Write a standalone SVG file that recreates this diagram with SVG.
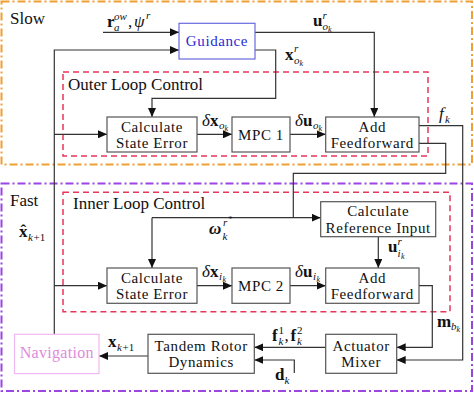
<svg xmlns="http://www.w3.org/2000/svg" width="474" height="415" viewBox="0 0 474 415" font-family="'Liberation Serif', 'Times New Roman', 'DejaVu Serif', serif">
<style>
text, tspan { font-family: 'Liberation Serif', 'Times New Roman', 'DejaVu Serif', serif; }
text { fill: #111; }
.t { font-size: 15px; text-anchor: middle; letter-spacing: 0.6px; }
.lbl { font-size: 17px; }
.b { font-weight: bold; }
.i { font-style: italic; }
.s { font-size: 11px; font-style: italic; }
.ss { font-size: 8px; font-style: italic; }
.box { fill: #fff; stroke: #555; stroke-width: 1.2; }
.c { fill: none; stroke: #333; stroke-width: 1.2; }
.slow { fill: none; stroke: #f0a030; stroke-width: 2; stroke-dasharray: 8 3 2 3; }
.fast { fill: none; stroke: #9b45e4; stroke-width: 2; stroke-dasharray: 8 3 2 3; }
.loop { fill: none; stroke: #e6365a; stroke-width: 1.5; stroke-dasharray: 6 4; }
</style>
<defs>
<marker id="ah" markerUnits="userSpaceOnUse" markerWidth="9" markerHeight="8" refX="9" refY="4" orient="auto">
<path d="M0,0 L9,4 L0,8 z" fill="#111"/>
</marker>
</defs>

<g id="regions">
<rect class="slow" x="1.5" y="1.5" width="470.5" height="163"/>
<text class="lbl" x="10" y="24">Slow</text>
<rect class="fast" x="1.5" y="183.5" width="470.5" height="207.5"/>
<text class="lbl" x="10" y="206">Fast</text>
<rect class="loop" x="63" y="72" width="365" height="84"/>
<text class="lbl" x="68" y="90">Outer Loop Control</text>
<rect class="loop" x="63" y="192.3" width="387" height="119.4"/>
<text class="lbl" x="73" y="209">Inner Loop Control</text>
</g>

<g id="connectors">
<path class="c" d="M103,32.3 H179" marker-end="url(#ah)"/>
<path class="c" d="M54.3,334 V50 H179" marker-end="url(#ah)"/>
<path class="c" d="M54.3,134.3 H107" marker-end="url(#ah)"/>
<path class="c" d="M54.3,285.7 H107" marker-end="url(#ah)"/>
<path class="c" d="M255,32.3 H374.3 V117" marker-end="url(#ah)"/>
<path class="c" d="M255,50 H275.7 V98.3 H152 V117" marker-end="url(#ah)"/>
<path class="c" d="M197,134.3 H232" marker-end="url(#ah)"/>
<path class="c" d="M290,134.3 H325.7" marker-end="url(#ah)"/>
<path class="c" d="M419,125.7 H462.7 V360 H396.7" marker-end="url(#ah)"/>
<path class="c" d="M419,143.3 H445.7 V173.3 H293.3 V217.7"/>
<path class="c" d="M152,217.7 H320.7" marker-end="url(#ah)"/>
<path class="c" d="M152,217.7 V268" marker-end="url(#ah)"/>
<path class="c" d="M378.3,236.7 V268" marker-end="url(#ah)"/>
<path class="c" d="M197,285.7 H232" marker-end="url(#ah)"/>
<path class="c" d="M290,285.7 H325.7" marker-end="url(#ah)"/>
<path class="c" d="M419,285.7 H432.3 V347.3 H396.7" marker-end="url(#ah)"/>
<path class="c" d="M325.7,347.3 H254.3" marker-end="url(#ah)"/>
<path class="c" d="M294.3,373 V360 H254.3" marker-end="url(#ah)"/>
<path class="c" d="M148,356 H99" marker-end="url(#ah)"/>
</g>

<g id="labels">
<text class="lbl"><tspan class="b" x="107" y="27">r</tspan><tspan class="s" x="114" y="20">ow</tspan><tspan class="s" x="114" y="31">a</tspan><tspan x="128" y="27">,</tspan><tspan class="i" x="134" y="27">ψ</tspan><tspan class="s" x="146" y="19">r</tspan></text>
<text class="lbl"><tspan class="b" x="313" y="26">u</tspan><tspan class="s" x="322.5" y="19">r</tspan><tspan class="s" x="322.5" y="30">o</tspan><tspan class="ss" x="328" y="32">k</tspan></text>
<text class="lbl"><tspan class="b" x="285" y="60">x</tspan><tspan class="s" x="294" y="52">r</tspan><tspan class="s" x="294" y="64">o</tspan><tspan class="ss" x="299.5" y="66">k</tspan></text>
<text class="lbl"><tspan class="i" x="202" y="126">δ</tspan><tspan class="b" x="210" y="126">x</tspan><tspan class="s" x="219" y="129">o</tspan><tspan class="ss" x="224.5" y="131">k</tspan></text>
<text class="lbl"><tspan class="i" x="295" y="126">δ</tspan><tspan class="b" x="303" y="126">u</tspan><tspan class="s" x="313" y="129">o</tspan><tspan class="ss" x="318.5" y="131">k</tspan></text>
<text class="lbl"><tspan class="i" x="439" y="119">f</tspan><tspan class="s" x="445" y="123">k</tspan></text>
<text class="lbl"><tspan class="i" x="202" y="277">δ</tspan><tspan class="b" x="210" y="277">x</tspan><tspan class="s" x="219" y="280">i</tspan><tspan class="ss" x="222.5" y="282">k</tspan></text>
<text class="lbl"><tspan class="i" x="295" y="277">δ</tspan><tspan class="b" x="303" y="277">u</tspan><tspan class="s" x="313" y="280">i</tspan><tspan class="ss" x="316.5" y="282">k</tspan></text>
<text class="lbl"><tspan class="b i" x="209" y="234">ω</tspan><tspan class="s" x="223" y="226">r</tspan><tspan class="ss" x="228" y="222">*</tspan><tspan class="s" x="222.5" y="240">k</tspan></text>
<text class="lbl"><tspan class="b" x="388" y="252">u</tspan><tspan class="s" x="397.5" y="245">r</tspan><tspan class="s" x="397.5" y="257">i</tspan><tspan class="ss" x="401" y="259">k</tspan></text>
<text class="lbl"><tspan class="b" x="437" y="327">m</tspan><tspan class="s" x="451" y="330">b</tspan><tspan class="ss" x="456.5" y="332">k</tspan></text>
<text class="lbl"><tspan class="b" x="108" y="347">x</tspan><tspan class="s" x="117" y="351">k</tspan><tspan font-size="11" x="122.5" y="351">+1</tspan></text>
<text class="lbl"><tspan class="b" x="19" y="237">x</tspan><tspan class="s" x="28" y="241">k</tspan><tspan font-size="11" x="33.5" y="241">+1</tspan></text>
<text class="lbl b" x="20.5" y="236">ˆ</text>
<text class="lbl"><tspan class="b" x="272" y="341">f</tspan><tspan font-size="11" x="278.5" y="334">1</tspan><tspan class="s" x="278.5" y="345">k</tspan><tspan x="284.5" y="341">,</tspan><tspan class="b" x="290.5" y="341">f</tspan><tspan font-size="11" x="297" y="334">2</tspan><tspan class="s" x="297" y="345">k</tspan></text>
<text class="lbl"><tspan class="b" x="275" y="380">d</tspan><tspan class="s" x="284.5" y="384">k</tspan></text>
</g>

<g id="guidance">
<rect x="179" y="23.3" width="76" height="35.7" fill="#fff" stroke="#6a6ae0" stroke-width="1.2"/>
<text class="t" x="217" y="46" font-size="16" style="fill:#2a2ad6">Guidance</text>
</g>
<g id="outer-state-error">
<rect class="box" x="107" y="117" width="90" height="35"/>
<text class="t" x="152" y="131.5">Calculate</text>
<text class="t" x="152" y="148">State Error</text>
</g>
<g id="mpc1">
<rect class="box" x="232" y="117" width="58" height="35"/>
<text class="t" x="261" y="139.5">MPC 1</text>
</g>
<g id="outer-feedforward">
<rect class="box" x="325.7" y="117" width="93.3" height="35"/>
<text class="t" x="372.3" y="131.5">Add</text>
<text class="t" x="372.3" y="148">Feedforward</text>
</g>
<g id="reference-input">
<rect class="box" x="320.7" y="201.7" width="115" height="35"/>
<text class="t" x="378.2" y="216">Calculate</text>
<text class="t" x="378.2" y="232.6">Reference Input</text>
</g>
<g id="inner-state-error">
<rect class="box" x="107" y="268" width="90" height="35.3"/>
<text class="t" x="152" y="282.5">Calculate</text>
<text class="t" x="152" y="299.1">State Error</text>
</g>
<g id="mpc2">
<rect class="box" x="232" y="268" width="58" height="35.3"/>
<text class="t" x="261" y="290.5">MPC 2</text>
</g>
<g id="inner-feedforward">
<rect class="box" x="325.7" y="268" width="93.3" height="35.3"/>
<text class="t" x="372.3" y="282.5">Add</text>
<text class="t" x="372.3" y="299.1">Feedforward</text>
</g>
<g id="actuator-mixer">
<rect class="box" x="325.7" y="334.3" width="71" height="39"/>
<text class="t" x="361.2" y="350.5">Actuator</text>
<text class="t" x="361.2" y="367.1">Mixer</text>
</g>
<g id="tandem-rotor">
<rect class="box" x="148" y="334.3" width="106.3" height="39"/>
<text class="t" x="201.2" y="350.5">Tandem Rotor</text>
<text class="t" x="201.2" y="367.1">Dynamics</text>
</g>
<g id="navigation">
<rect x="14.5" y="334.3" width="84.5" height="39.3" fill="#fff" stroke="#f0b8f0" stroke-width="1.2"/>
<text class="t" x="56.7" y="358" font-size="16" style="fill:#e08ae0;font-size:16px;letter-spacing:0.3px">Navigation</text>
</g>
</svg>
